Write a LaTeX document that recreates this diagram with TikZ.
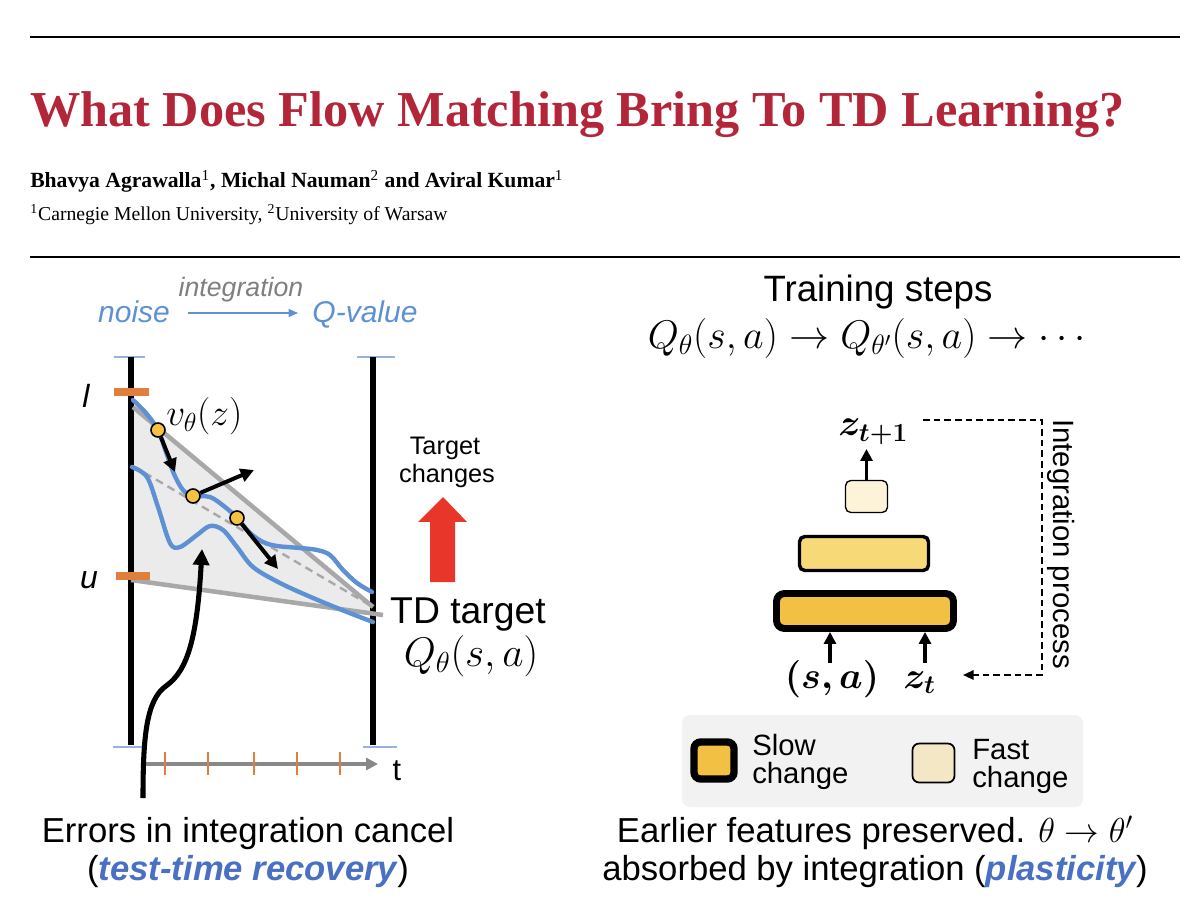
\RequirePackage{fix-cm}
\documentclass[tikz,border=0pt]{standalone}
\usepackage{fontspec}
\usepackage{amsmath}
\usepackage{bm}
\usepackage{graphicx}
\setmainfont{Liberation Serif}
\setsansfont{Liberation Sans}
\usetikzlibrary{arrows.meta}
\definecolor{titlered}{HTML}{B3263A}
\definecolor{flowblue}{HTML}{5E90D4}
\definecolor{boldblue}{HTML}{4A70C4}
\definecolor{linegray}{HTML}{A8A8A8}
\definecolor{axisgray}{HTML}{888888}
\definecolor{textgray}{HTML}{7F7F7F}
\definecolor{tickorange}{HTML}{E07E3C}
\definecolor{tickblue}{HTML}{9AB0DE}
\definecolor{dotyellow}{HTML}{F5C242}
\definecolor{arrowred}{HTML}{E8372A}
\definecolor{trifill}{HTML}{EBEBEB}
\definecolor{slowfill}{HTML}{F2C043}
\definecolor{midfill}{HTML}{F8D978}
\definecolor{fastfill}{HTML}{FDF3D8}
\definecolor{legfast}{HTML}{F3E7C6}
\definecolor{legendbg}{HTML}{F2F2F2}
\newcommand{\pxu}{0.75pt}
\tikzset{
  sf/.style={inner sep=0pt, font=\sffamily\fontsize{#1}{#1}\selectfont},
  mt/.style={inner sep=0pt, font=\fontsize{#1}{#1}\selectfont},
  gline/.style={draw=linegray, line width=3.4pt},
  dline/.style={draw=linegray, line width=1.8pt, dash pattern=on 6pt off 4pt},
  flow/.style={draw=flowblue, line width=3.3pt, line cap=round},
  omark/.style={draw=tickorange, line width=6pt},
  bluetick/.style={draw=tickblue, line width=0.9pt},
  vaxis/.style={draw=black, line width=4pt},
  dot/.style={circle, fill=dotyellow, draw=black, line width=1.2pt, inner sep=0pt, minimum size=10.5pt},
  karrow/.style={draw=black, line width=3pt, -{Triangle[length=10pt,width=10pt]}},
  bigarrow/.style={draw=black, line width=3.8pt, -{Triangle[length=12pt,width=12pt]}},
  taxis/.style={draw=axisgray, line width=2.6pt, -{Triangle[length=9pt,width=9pt]}},
  thinarrow/.style={draw=flowblue, line width=1pt, -{Triangle[length=7pt,width=6pt]}},
  otick/.style={draw=tickorange, line width=1.6pt},
  layer/.style={rounded corners=#1, draw=black, inner sep=0pt},
  uparrow/.style={draw=black, line width=2.6pt, -{Triangle[length=9pt,width=9pt]}},
  dashflow/.style={draw=black, line width=1.5pt, dash pattern=on 5pt off 3pt, -{Triangle[length=8pt,width=7pt]}},
}
\begin{document}
\begin{tikzpicture}[x=0.75pt,y=-0.75pt]
\useasboundingbox (0,0) rectangle (1200,923);

% ---------- header ----------
\draw[line width=1.8pt] (30,37) -- (1180,37);
\draw[line width=1.8pt] (30,257) -- (1180,257);
\node[anchor=base west, inner sep=0pt, text=titlered] (title) at (30,127)
  {\resizebox{821pt}{!}{\bfseries What Does Flow Matching Bring To TD Learning?}};
\node[anchor=base west, inner sep=0pt] (authors) at (30,188)
  {\resizebox{400pt}{!}{\bfseries Bhavya Agrawalla\textsuperscript{\mdseries 1}, Michal Nauman\textsuperscript{\mdseries 2} and Aviral Kumar\textsuperscript{\mdseries 1}}};
\node[anchor=base west, inner sep=0pt] (affil) at (30,221)
  {\resizebox{313pt}{!}{\textsuperscript{1}Carnegie Mellon University, \textsuperscript{2}University of Warsaw}};

% ---------- left diagram ----------
\node[sf=20, anchor=base, text=textgray] (integ) at (241,297) {\itshape integration};
\node[sf=22.5, anchor=base, text=flowblue] (noise) at (134,323) {\itshape noise};
\node[sf=22.5, anchor=base, text=flowblue] (qv) at (365,323) {\itshape Q-value};
\coordinate (ia) at (188,313);
\coordinate (ib) at (298,313);
\draw[thinarrow] (ia) -- (ib);

\fill[trifill] (131,406) -- (373,607) -- (373,613) -- (131,580) -- cycle;

\draw[bluetick] (114,357) -- (145,357);
\draw[bluetick] (357,357) -- (395,357);
\draw[bluetick] (113,747) -- (147,747);
\draw[bluetick] (363,747) -- (397,747);
\draw[vaxis] (131,357) -- (131,745);
\draw[vaxis] (373,357) -- (373,745);

\draw[gline] (133,407) -- (373,607);
\draw[gline] (131,580) -- (383,615);
\draw[dline] (133,466) -- (373,607);

\draw[omark] (114,392) -- (149,392);
\draw[omark] (116,576) -- (150,576);
\node[sf=24, anchor=base] (llab) at (86,408) {\itshape l};
\node[sf=24, anchor=base] (ulab) at (89,588) {\itshape u};

\draw[flow] plot[smooth, tension=0.55] coordinates {(133,400) (146,413) (158,430) (166,452) (174,474) (183,490) (193,496) (210,497) (225,507) (237,518) (250,533) (263,542) (277,546) (300,548) (317,550) (330,555) (343,570) (357,583) (372,592)};
\draw[flow] plot[smooth, tension=0.55] coordinates {(132,467) (147,477) (158,507) (170,543) (180,547) (197,535) (210,526) (223,530) (237,547) (253,567) (280,583) (313,598) (347,612) (373,622)};

\node[dot] (d1) at (158,430) {};
\node[dot] (d2) at (193,496) {};
\node[dot] (d3) at (237,518) {};
\coordinate (e1) at (175,472);
\coordinate (e2) at (254,470);
\coordinate (e3) at (278,569);
\draw[karrow] (d1) -- (e1);
\draw[karrow] (d2) -- (e2);
\draw[karrow] (d3) -- (e3);
\node[mt=28, anchor=base west] (vlab) at (166,426) {$v_\theta(z)$};

\coordinate (cb) at (143,798);
\coordinate (ct) at (202,549);
\draw[bigarrow] (cb) .. controls (143,738) and (146,700) .. (166,686) .. controls (187,671) and (197,640) .. (ct);

\coordinate (ta) at (146,764);
\coordinate (tb) at (378,764);
\draw[taxis] (ta) -- (tb);
\foreach \tx in {165,208,254,297,340} \draw[otick] (\tx,752) -- (\tx,775);
\node[sf=23, anchor=base] (tlab) at (397,780) {t};

\node[sf=19, anchor=base] (tc1) at (445,455) {Target};
\node[sf=19, anchor=base] (tc2) at (447,483) {changes};
\fill[arrowred] (430,582) -- (430,522) -- (418,522) -- (443,497) -- (467,522) -- (455,522) -- (455,582) -- cycle;
\node[sf=28, anchor=base] (tdt) at (468,623) {TD target};
\node[mt=31, anchor=base] (tdq) at (471,666) {$Q_\theta(s,a)$};

\node[sf=26, anchor=base] (bl1) at (248,842) {Errors in integration cancel};
\node[sf=26, anchor=base] (bl2) at (248,880) {(\textcolor{boldblue}{\bfseries\itshape test-time recovery})};

% ---------- right diagram ----------
\node[sf=27.5, anchor=base] (train) at (878,302) {Training steps};
\node[mt=30, anchor=base] (qline) at (870,349) {$Q_\theta(s,a)\rightarrow Q_{\theta'}(s,a)\rightarrow\cdots$};

\node[layer=4pt, fill=fastfill, line width=1pt, minimum width=42*\pxu, minimum height=32*\pxu] (fast) at (866.5,496.5) {};
\node[layer=4pt, fill=midfill, line width=2.6pt, minimum width=129*\pxu, minimum height=34*\pxu] (mid) at (864,553.5) {};
\node[layer=6pt, fill=slowfill, line width=5.2pt, minimum width=177*\pxu, minimum height=35*\pxu] (slow) at (865,611) {};

\node[mt=28, anchor=base west] (zt1) at (838,436) {$\boldsymbol{z_{t+1}}$};
\node[mt=28, anchor=base] (sa) at (832,688) {$\boldsymbol{(s,a)}$};
\node[mt=28, anchor=base west] (zt) at (903,688) {$\boldsymbol{z_{t}}$};

\coordinate (zt1arr) at (866.5,449);
\draw[uparrow] (fast.north) -- (zt1arr);
\coordinate (saarr) at (830,663);
\coordinate (ztarr) at (925,663);
\draw[uparrow] (saarr) -- (saarr |- slow.south);
\draw[uparrow] (ztarr) -- (ztarr |- slow.south);

\coordinate (dA) at (923,420);
\coordinate (dB) at (1042,420);
\coordinate (dC) at (1042,675);
\coordinate (dD) at (963,675);
\draw[dashflow] (dA) -- (dB) -- (dC) -- (dD);
\node[sf=22, rotate=-90] (intproc) at (1061,544) {Integration process};

\node[fill=legendbg, rounded corners=6pt, minimum width=401*\pxu, minimum height=92*\pxu, inner sep=0pt] (legend) at (882.5,761) {};
\node[layer=5pt, fill=slowfill, line width=5.5pt, minimum width=40*\pxu, minimum height=37*\pxu] (slowsw) at (714,760.5) {};
\node[layer=5pt, fill=legfast, line width=1.3pt, minimum width=42*\pxu, minimum height=39*\pxu] (fastsw) at (933.5,763) {};
\node[sf=22, anchor=base west] (slow1) at (752,755) {Slow};
\node[sf=22, anchor=base west] (slow2) at (752,783) {change};
\node[sf=22, anchor=base west] (fast1) at (972,759) {Fast};
\node[sf=22, anchor=base west] (fast2) at (972,787) {change};

\node[sf=26, anchor=base] (br1) at (875,842) {Earlier features preserved. $\theta\rightarrow\theta'$};
\node[sf=26, anchor=base] (br2) at (875,880) {absorbed by integration (\textcolor{boldblue}{\bfseries\itshape plasticity})};
\end{tikzpicture}
\end{document}
